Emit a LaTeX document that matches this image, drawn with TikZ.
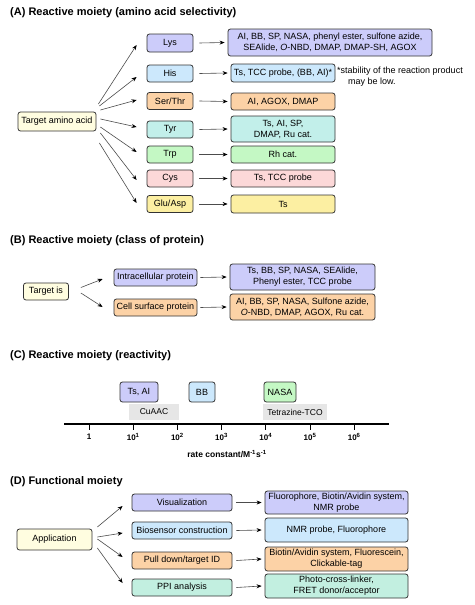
\documentclass[tikz,border=0pt]{standalone}
\usepackage{fontspec}
\setmainfont{Liberation Sans}
\usetikzlibrary{calc,arrows.meta}
\definecolor{cLav}{HTML}{CCCCFA}
\definecolor{cBlue}{HTML}{CCE8FC}
\definecolor{cOra}{HTML}{FCD2A6}
\definecolor{cAqua}{HTML}{C2EFEA}
\definecolor{cGrn}{HTML}{C4F8C4}
\definecolor{cPink}{HTML}{FCD8D8}
\definecolor{cYel}{HTML}{FCEFA2}
\definecolor{cPale}{HTML}{FFFDE0}
\definecolor{cTeal}{HTML}{C2EFE0}
\definecolor{cGray}{HTML}{E6E6E6}
\definecolor{cLine}{HTML}{333333}
\tikzset{
  box/.style={draw=cLine, line width=0.8pt, rounded corners=2.5pt, inner sep=0pt,
    align=center, font=\fontsize{9}{11}\selectfont},
  tag/.style={fill=cGray, inner sep=0pt, font=\fontsize{8.5}{10}\selectfont},
  conn/.style={draw=black!70, line width=0.6pt, -{Stealth[length=5pt,width=4pt,black]}},
  ttl/.style={anchor=base west, inner sep=0pt, font=\fontsize{11}{13}\selectfont\bfseries},
  ticklab/.style={inner sep=0pt, font=\fontsize{8}{9}\selectfont\bfseries},
}
\begin{document}
\begin{tikzpicture}[x=1pt,y=-1pt]
\useasboundingbox[fill=white] (0,0) rectangle (474,605);

% ---------- (A)
\node[ttl] (ta) at (10,16) {(A) Reactive moiety (amino acid selectivity)};
\node[box, fill=cPale, minimum width=78pt, minimum height=19pt] (tgt) at (57,121.5) {Target amino acid};

\node[box, fill=cLav,  minimum width=46pt, minimum height=18pt] (lys) at (170,43) {Lys};
\node[box, fill=cBlue, minimum width=46pt, minimum height=17pt] (his) at (170,73.5) {His};
\node[box, fill=cOra,  minimum width=46pt, minimum height=17pt] (ser) at (170,101) {Ser/Thr};
\node[box, fill=cAqua, minimum width=46pt, minimum height=17pt] (tyr) at (170,129.5) {Tyr};
\node[box, fill=cGrn,  minimum width=46pt, minimum height=17pt] (trp) at (170,154.5) {Trp};
\node[box, fill=cPink, minimum width=46pt, minimum height=17pt] (cys) at (170,178.5) {Cys};
\node[box, fill=cYel,  minimum width=46pt, minimum height=17pt] (glu) at (170,204) {Glu/Asp};

\node[box, fill=cLav,  minimum width=204pt, minimum height=27pt] (rlys) at (330,42.5)
  {AI, BB, SP, NASA, phenyl ester, sulfone azide,\\SEAlide, \textit{O}-NBD, DMAP, DMAP-SH, AGOX};
\node[box, fill=cBlue, minimum width=104pt, minimum height=18pt] (rhis) at (283,73) {Ts, TCC probe, (BB, AI)*};
\node[box, fill=cOra,  minimum width=104pt, minimum height=17pt] (rser) at (283,101.5) {AI, AGOX, DMAP};
\node[box, fill=cAqua, minimum width=104pt, minimum height=26pt] (rtyr) at (283,129) {Ts, AI, SP,\\DMAP, Ru cat.};
\node[box, fill=cGrn,  minimum width=104pt, minimum height=17pt] (rtrp) at (283,154.5) {Rh cat.};
\node[box, fill=cPink, minimum width=104pt, minimum height=17pt] (rcys) at (283,178.5) {Ts, TCC probe};
\node[box, fill=cYel,  minimum width=104pt, minimum height=18pt] (rglu) at (283,204) {Ts};

\node[anchor=west, inner sep=0pt, align=left, font=\fontsize{9}{11}\selectfont] (note) at (337,76.5)
  {*stability of the reaction product\\\hspace*{11pt}may be low.};

\draw[conn] ($(tgt.east)+(2,-17.5)$) -- ($(lys.west)+(-10,2)$);
\draw[conn] ($(tgt.east)+(3,-15.5)$) -- ($(his.west)+(-10,3.5)$);
\draw[conn] ($(tgt.east)+(4,-11.5)$) -- ($(ser.west)+(-10,-1)$);
\draw[conn] ($(tgt.east)+(4,-2.5)$) -- ($(tyr.west)+(-10,-2.5)$);
\draw[conn] ($(tgt.east)+(4,5.5)$) -- ($(trp.west)+(-10,-2.5)$);
\draw[conn] ($(tgt.east)+(4,11.5)$) -- ($(cys.west)+(-10,1.5)$);
\draw[conn] ($(tgt.east)+(3,21.5)$) -- ($(glu.west)+(-10,-1)$);

\foreach \a/\b in {lys/rlys,his/rhis,ser/rser,tyr/rtyr,trp/rtrp,cys/rcys,glu/rglu}
  \draw[conn] ($(\a.east)+(6,0)$) -- ($(\b.west)+(-3,0)$);

% ---------- (B)
\node[ttl] (tb) at (10,243) {(B) Reactive moiety (class of protein)};
\node[box, fill=cPale, minimum width=45pt, minimum height=17pt] (tis) at (46,291.5) {Target is};
\node[box, fill=cLav, minimum width=83pt, minimum height=17pt] (intra) at (155.5,277.5) {Intracellular protein};
\node[box, fill=cOra, minimum width=83pt, minimum height=17pt] (cell) at (155.5,307.5) {Cell surface protein};
\node[box, fill=cLav, minimum width=145pt, minimum height=26pt] (rintra) at (302.5,277)
  {Ts, BB, SP, NASA, SEAlide,\\Phenyl ester, TCC probe};
\node[box, fill=cOra, minimum width=145pt, minimum height=26pt] (rcell) at (302.5,307)
  {AI, BB, SP, NASA, Sulfone azide,\\\textit{O}-NBD, DMAP, AGOX, Ru cat.};
\draw[conn] ($(tis.east)+(12,-4)$) -- ($(intra.west)+(-11,1.5)$);
\draw[conn] ($(tis.east)+(12,1.5)$) -- ($(cell.west)+(-11,-0.5)$);
\draw[conn] ($(intra.east)+(3,0)$) -- ($(rintra.west)+(-3,0)$);
\draw[conn] ($(cell.east)+(3,0)$) -- ($(rcell.west)+(-3,0)$);

% ---------- (C)
\node[ttl] (tc) at (10,358) {(C) Reactive moiety (reactivity)};
\node[tag, minimum width=50pt, minimum height=16pt] (cuaac) at (154,412) {CuAAC};
\node[tag, minimum width=64pt, minimum height=16pt] (tco) at (295,412) {Tetrazine-TCO};
\node[box, fill=cLav,  minimum width=38pt, minimum height=20pt] (tsai) at (139,392) {Ts, AI};
\node[box, fill=cBlue, minimum width=26pt, minimum height=20pt] (bb) at (202,392) {BB};
\node[box, fill=cGrn,  minimum width=32pt, minimum height=20pt] (nasa) at (280,392) {NASA};
\coordinate (ax1) at (64,424);
\coordinate (ax2) at (389,424);
\draw[line width=1.6pt, black] (ax1) -- (ax2);
\foreach \k/\lab in {0/1,1/10\textsuperscript{1},2/10\textsuperscript{2},3/10\textsuperscript{3},4/10\textsuperscript{4},5/10\textsuperscript{5},6/10\textsuperscript{6}} {
  \draw[line width=0.8pt] (89+44.2*\k,424) -- (89+44.2*\k,430);
  \node[ticklab] at (89+44.2*\k,437) {\lab};
}
\node[ticklab, font=\fontsize{8.5}{10}\selectfont\bfseries] (rc) at (227,454) {rate constant/M\textsuperscript{-1}s\textsuperscript{-1}};

% ---------- (D)
\node[ttl] (td) at (10,484) {(D) Functional moiety};
\node[box, fill=cPale, minimum width=75pt, minimum height=21pt] (app) at (54.5,539.5) {Application};
\node[box, fill=cLav,  minimum width=100pt, minimum height=17pt] (vis) at (182,502.5) {Visualization};
\node[box, fill=cBlue, minimum width=100pt, minimum height=17pt] (bio) at (182,530.5) {Biosensor construction};
\node[box, fill=cOra,  minimum width=100pt, minimum height=17pt] (pull) at (182,560.5) {Pull down/target ID};
\node[box, fill=cTeal, minimum width=100pt, minimum height=17pt] (ppi) at (182,587.5) {PPI analysis};
\node[box, fill=cLav,  minimum width=143pt, minimum height=23pt] (rvis) at (336.5,502.5)
  {Fluorophore, Biotin/Avidin system,\\NMR probe};
\node[box, fill=cBlue, minimum width=143pt, minimum height=24pt] (rbio) at (336.5,530) {NMR probe, Fluorophore};
\node[box, fill=cOra,  minimum width=143pt, minimum height=24pt] (rpull) at (336.5,559)
  {Biotin/Avidin system, Fluorescein,\\Clickable-tag};
\node[box, fill=cTeal, minimum width=143pt, minimum height=24pt] (rppi) at (336.5,586)
  {Photo-cross-linker,\\FRET donor/acceptor};
\draw[conn] ($(app.east)+(5,-12.5)$) -- ($(vis.west)+(-9,3.5)$);
\draw[conn] ($(app.east)+(5,-2.5)$) -- ($(bio.west)+(-9,2.5)$);
\draw[conn] ($(app.east)+(5,-0.5)$) -- ($(pull.west)+(-9,-3.5)$);
\draw[conn] ($(app.east)+(5,8.5)$) -- ($(ppi.west)+(-9,-4.5)$);
\foreach \a/\b in {vis/rvis,bio/rbio,pull/rpull,ppi/rppi}
  \draw[conn] ($(\a.east)+(4,0)$) -- ($(\b.west)+(-3,0)$);
\end{tikzpicture}
\end{document}
